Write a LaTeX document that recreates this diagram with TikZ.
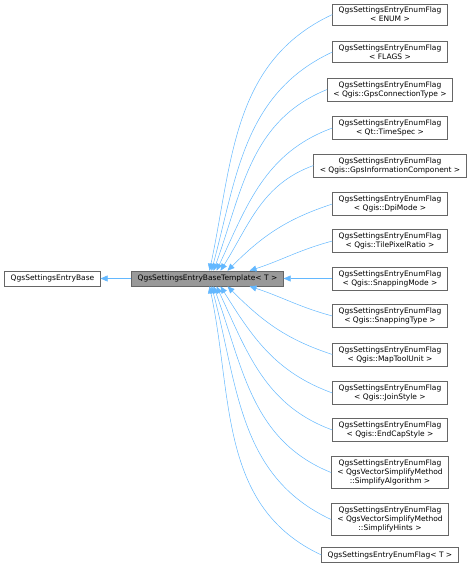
\documentclass[tikz,border=0pt]{standalone}
\usepackage{fontspec}
\setmainfont{DejaVu Sans}
\usetikzlibrary{arrows.meta}
\definecolor{edgeblue}{HTML}{63B8FF}
\definecolor{frame}{HTML}{666666}
\definecolor{current}{HTML}{999999}
\tikzset{
  cls/.style={
    draw=frame, fill=white, line width=0.6pt,
    inner xsep=6pt, inner ysep=3.2pt, minimum height=15pt,
    align=center, font=\fontsize{7.5}{9}\selectfont
  },
  inherit/.style={-{Triangle[length=7pt, width=6pt]}, draw=edgeblue, line width=0.5pt}
}
\begin{document}
\begin{tikzpicture}[x=1pt, y=1pt,
    curcls/.style={cls, fill=current}
  ]
  \useasboundingbox (0,0) rectangle (474,-567);
  \node[cls] (base) at (52.5,-278.5) {QgsSettingsEntryBase};
  \node[curcls] (tmpl) at (207.5,-278.5) {QgsSettingsEntryBaseTemplate< T >};
  \node[cls] (enum) at (390,-14.5) {QgsSettingsEntryEnumFlag\\< ENUM >};
  \node[cls] (flags) at (390,-52) {QgsSettingsEntryEnumFlag\\< FLAGS >};
  \node[cls] (gpsconn) at (390,-89.5) {QgsSettingsEntryEnumFlag\\< Qgis::GpsConnectionType >};
  \node[cls] (timespec) at (390,-128) {QgsSettingsEntryEnumFlag\\< Qt::TimeSpec >};
  \node[cls] (gpsinfo) at (390,-165.5) {QgsSettingsEntryEnumFlag\\< Qgis::GpsInformationComponent >};
  \node[cls] (dpimode) at (390,-204) {QgsSettingsEntryEnumFlag\\< Qgis::DpiMode >};
  \node[cls] (tileratio) at (390,-241) {QgsSettingsEntryEnumFlag\\< Qgis::TilePixelRatio >};
  \node[cls] (snapmode) at (390,-278.5) {QgsSettingsEntryEnumFlag\\< Qgis::SnappingMode >};
  \node[cls] (snaptype) at (390,-316) {QgsSettingsEntryEnumFlag\\< Qgis::SnappingType >};
  \node[cls] (maptool) at (390,-354.5) {QgsSettingsEntryEnumFlag\\< Qgis::MapToolUnit >};
  \node[cls] (joinstyle) at (390,-393) {QgsSettingsEntryEnumFlag\\< Qgis::JoinStyle >};
  \node[cls] (endcap) at (390,-430) {QgsSettingsEntryEnumFlag\\< Qgis::EndCapStyle >};
  \node[cls] (simpalgo) at (390,-472.5) {QgsSettingsEntryEnumFlag\\< QgsVectorSimplifyMethod\\::SimplifyAlgorithm >};
  \node[cls] (simphints) at (390,-519.5) {QgsSettingsEntryEnumFlag\\< QgsVectorSimplifyMethod\\::SimplifyHints >};
  \node[cls] (flagt) at (390,-555) {QgsSettingsEntryEnumFlag< T >};
  % inheritance edges
  \draw[inherit] (tmpl.west) -- (base.east);
  \draw[inherit] (enum.west) to[out=205, in=78] ([xshift=2pt]tmpl.north);
  \draw[inherit] (flags.west) to[out=205, in=75] ([xshift=4pt]tmpl.north);
  \draw[inherit] (gpsconn.west) to[out=202, in=70] ([xshift=6pt]tmpl.north);
  \draw[inherit] (timespec.west) to[out=200, in=65] ([xshift=9pt]tmpl.north);
  \draw[inherit] (gpsinfo.west) to[out=200, in=58] ([xshift=13pt]tmpl.north);
  \draw[inherit] (dpimode.west) to[out=198, in=45] ([xshift=20pt]tmpl.north);
  \draw[inherit] (tileratio.west) to[out=195, in=18] ([xshift=42pt]tmpl.north);
  \draw[inherit] (snapmode.west) -- (tmpl.east);
  \draw[inherit] (snaptype.west) to[out=165, in=-18] ([xshift=42pt]tmpl.south);
  \draw[inherit] (maptool.west) to[out=162, in=-45] ([xshift=20pt]tmpl.south);
  \draw[inherit] (joinstyle.west) to[out=160, in=-58] ([xshift=13pt]tmpl.south);
  \draw[inherit] (endcap.west) to[out=160, in=-65] ([xshift=9pt]tmpl.south);
  \draw[inherit] (simpalgo.west) to[out=158, in=-70] ([xshift=6pt]tmpl.south);
  \draw[inherit] (simphints.west) to[out=155, in=-75] ([xshift=4pt]tmpl.south);
  \draw[inherit] (flagt.west) to[out=155, in=-78] ([xshift=2pt]tmpl.south);
\end{tikzpicture}
\end{document}
